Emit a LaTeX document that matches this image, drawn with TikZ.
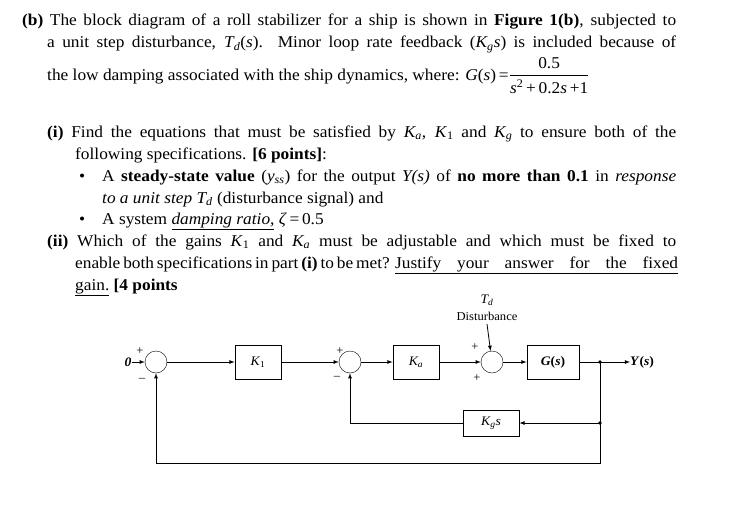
\documentclass[tikz,border=0pt]{standalone}
\usepackage{fontspec}
\setmainfont[FakeStretch=1.05]{Liberation Serif}
\usetikzlibrary{calc}
\newcommand{\sub}[1]{\textsubscript{#1}}
\newcommand{\ul}[1]{\underline{#1}}
\begin{document}
\begin{tikzpicture}[x=1pt,y=-1pt,
  txt/.style={anchor=base west,inner sep=0pt,font=\fontsize{16.5}{20}\selectfont},
  blk/.style={draw,thick,minimum width=46pt,minimum height=34pt,font=\fontsize{13}{15}\selectfont,inner sep=0pt},
  sj/.style={draw,circle,minimum size=22pt,inner sep=0pt},
  sig/.style={thick,-latex},
  sm/.style={font=\fontsize{12}{14}\selectfont,inner sep=0pt}]
\useasboundingbox (0,0) rectangle (754,508);
\node[txt] (l1) at (22,26) {\makebox[654pt][s]{\textbf{(b)} The block diagram of a roll stabilizer for a ship is shown in \textbf{Figure 1(b)}, subjected to}};
\node[txt] (l2) at (47,48) {\makebox[629pt][s]{a unit step disturbance, \textit{T\sub{d}}(\textit{s}). Minor loop rate feedback (\textit{K\sub{g}s}) is included because of}};
\node[txt] (l3) at (47,81) {the low damping associated with the ship dynamics, where: \textit{G}(\textit{s})\,=};
\node[txt,anchor=west] (fr) at ($(l3.base east)+(1,-4)$) {\begin{tabular}{@{}c@{}}0.5\\[1pt]\hline \rule{0pt}{18pt}\textit{s}\textsuperscript{2}\,+\,0.2\textit{s}\,+1\end{tabular}};
\node[txt] (l4) at (47,137) {\makebox[629pt][s]{\textbf{(i)} Find the equations that must be satisfied by \textit{K\sub{a}}, \textit{K}\sub{1} and \textit{K\sub{g}} to ensure both of the}};
\node[txt] (l5) at (75,159) {following specifications. \textbf{[6 points]}:};
\node[txt] (b1) at (79,181) {\textbullet};
\node[txt] (l6) at (102,181) {\makebox[574pt][s]{A \textbf{steady-state value} (\textit{y\sub{ss}}) for the output \textit{Y(s)} of \textbf{no more than 0.1} in \textit{response}}};
\node[txt] (l7) at (102,203) {\textit{to a unit step T\sub{d}} (disturbance signal) and};
\node[txt] (b2) at (79,224) {\textbullet};
\node[txt] (l8) at (102,224) {A system \textit{\ul{damping ratio,}} \textit{ζ}\,=\,0.5};
\node[txt] (l9) at (47,246) {\makebox[629pt][s]{\textbf{(ii)} Which of the gains \textit{K}\sub{1} and \textit{K\sub{a}} must be adjustable and which must be fixed to}};
\node[txt] (l10) at (75,268) {\makebox[601pt][s]{enable both specifications in part \textbf{(i)} to be met? \ul{\makebox[283pt][s]{Justify your answer for the fixed}}}};
\node[txt] (l11) at (75,290) {\ul{gain.} \textbf{[4 points}};

% diagram
\node[sm,font=\bfseries\itshape\fontsize{13}{15}\selectfont] (in) at (128,362) {0};
\node[sj] (s1) at (156,362) {};
\node[blk] (k1) at (258,362) {\textit{K}\sub{1}};
\node[sj] (s2) at (350,362) {};
\node[blk] (ka) at (416,362) {\textit{K\sub{a}}};
\node[sj] (s3) at (492,362) {};
\node[blk,minimum width=52pt] (g) at (553,362) {\textbf{\textit{G}(\textit{s})}};
\coordinate (br) at (600,362);
\node[sm,anchor=west,font=\bfseries\fontsize{13}{15}\selectfont] (y) at (630,362) {\textit{Y}(\textit{s})};
\node[blk,minimum width=56pt,minimum height=26pt] (kg) at (491,423) {\textit{K\sub{g}s}};
\coordinate (bk) at (600,423);
\coordinate (bot) at (600,463);
\node[sm,font=\itshape\fontsize{13}{15}\selectfont] (td) at (487,300) {T\sub{d}};
\node[sm] (dist) at (487,316) {Disturbance};
\coordinate (dtop) at (487,324);

\draw[sig] (in) -- (s1);
\draw[sig] (s1) -- (k1);
\draw[sig] (k1) -- (s2);
\draw[sig] (s2) -- (ka);
\draw[sig] (ka) -- (s3);
\draw[sig] (s3) -- (g);
\draw[sig] (g) -- (y);
\draw[sig] (dtop) -- (s3);
\draw[sig] (br) -- (bk) -- (kg);
\draw[sig] (kg) -| (s2);
\draw[sig] (bk) -- (bot) -| (s1);
\fill (br) circle (1.8pt);
\fill (bk) circle (1.8pt);

\node[sm] at (140,351) {+};
\node[sm] at (142,380) {\textendash};
\node[sm] at (340,351) {+};
\node[sm] at (337,378) {\textendash};
\node[sm] at (475,347) {+};
\node[sm] at (477,378) {+};
\end{tikzpicture}
\end{document}
